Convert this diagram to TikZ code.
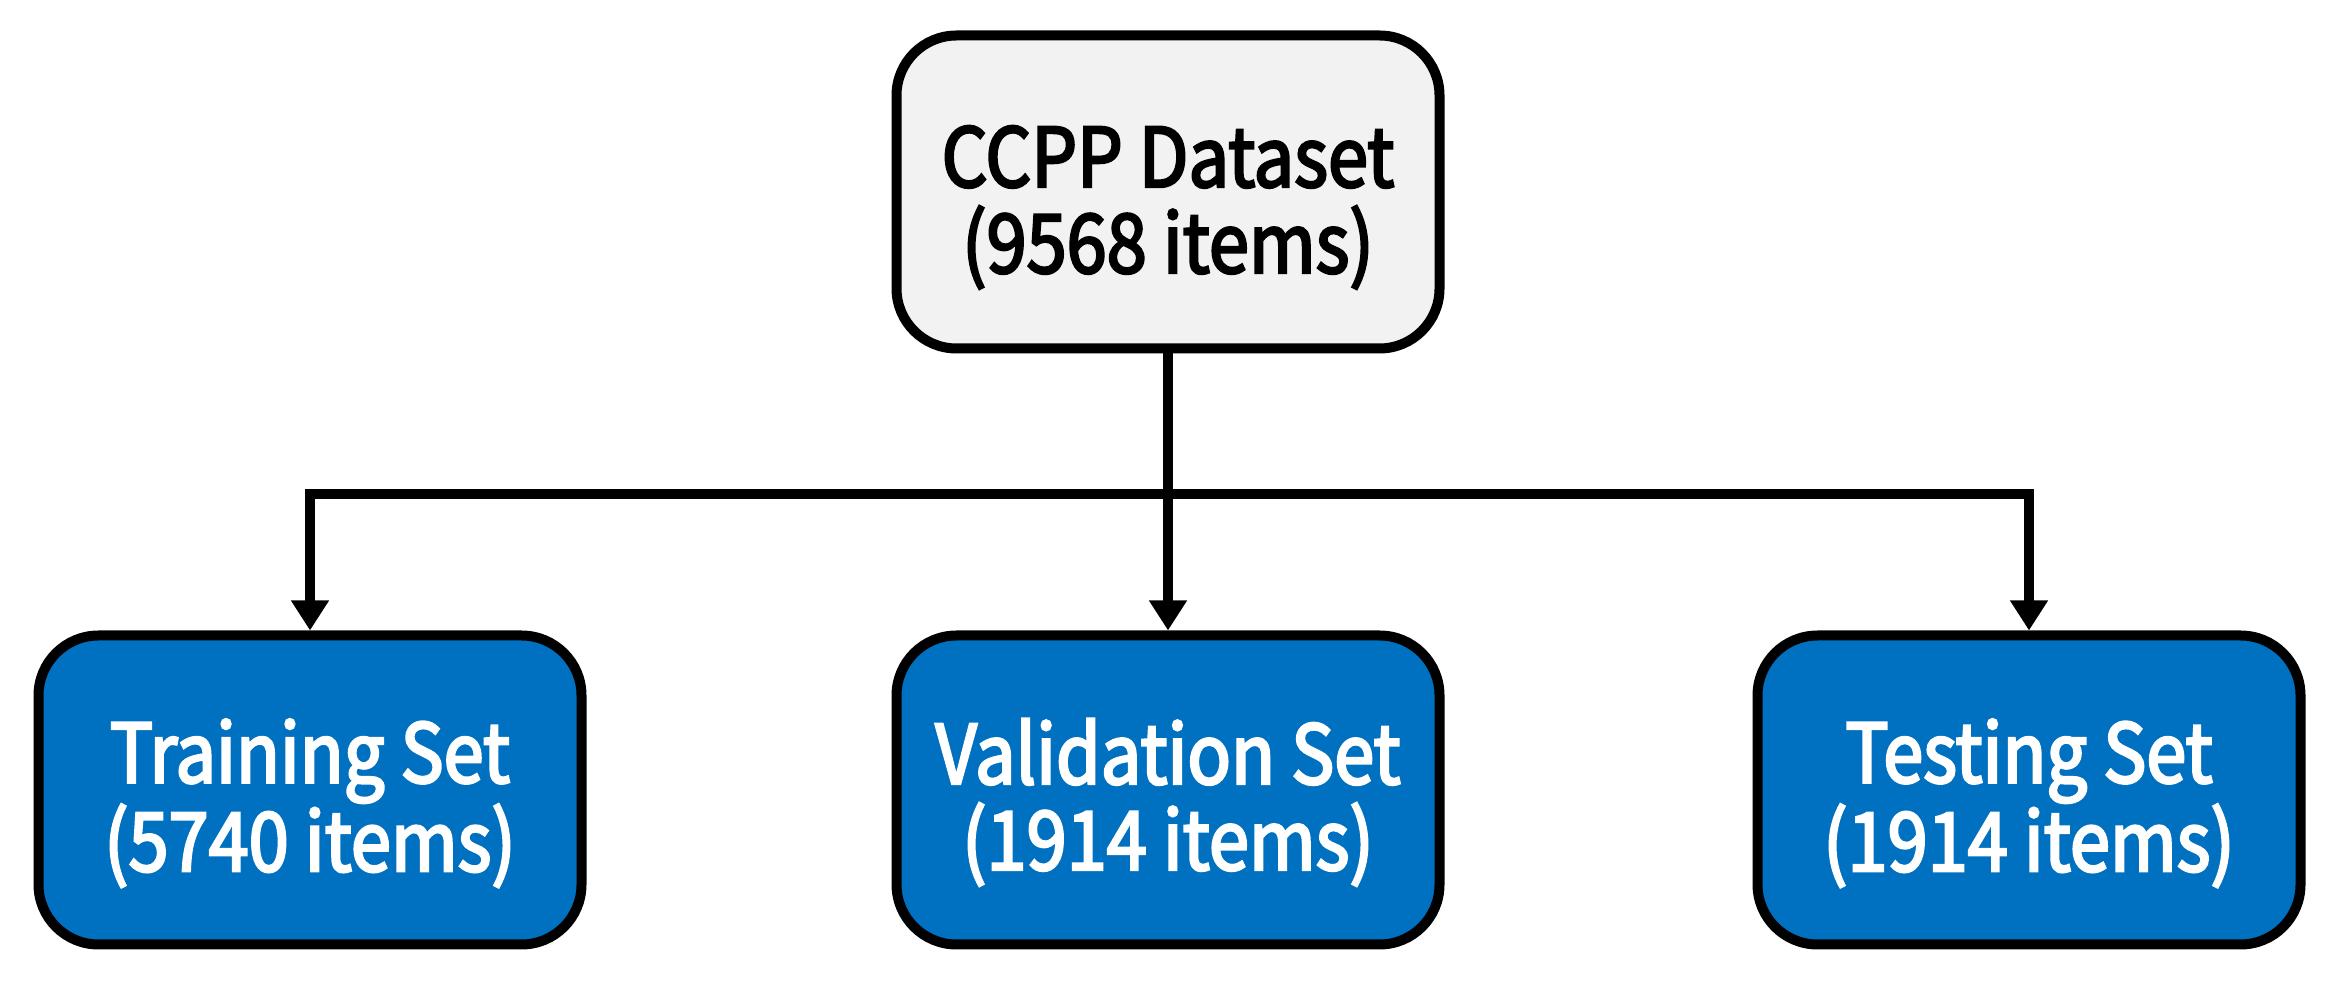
\documentclass[tikz,border=0pt]{standalone}
\usepackage{fontspec}
\newfontfamily\boxfont{Noto Sans CJK SC}[FakeBold=3,FakeStretch=0.88]
\usetikzlibrary{arrows.meta}
\definecolor{topgray}{HTML}{F2F2F2}
\definecolor{setblue}{HTML}{0070C0}
\newcommand{\dropstrut}[1]{\rule{0pt}{#1}}
\begin{document}
\begin{tikzpicture}[x=1pt,y=1pt,
  boxbase/.style={draw=black, line width=10pt, rounded corners=60pt, align=center,
    font=\boxfont\fontsize{82}{86}\selectfont, inner sep=0pt},
  topbox/.style={boxbase, fill=topgray, text=black, minimum width=543pt, minimum height=313pt},
  setbox/.style={boxbase, fill=setblue, text=white, minimum width=543pt, minimum height=309pt},
  conn/.style={line width=10pt},
  arr/.style={conn, -{Triangle[width=36pt,length=30pt]}}
]
\useasboundingbox (0,0) rectangle (2328,982);
\node[topbox] (top) at (1168,790) {\dropstrut{92pt}CCPP Dataset\\(9568 items)};
\node[setbox] (train) at (310,192) {\dropstrut{90pt}Training Set\\(5740 items)};
\node[setbox] (val) at (1168,192) {\dropstrut{90pt}Validation Set\\(1914 items)};
\node[setbox] (test) at (2029,192) {\dropstrut{90pt}Testing Set\\(1914 items)};
\coordinate (j) at (1168,488);
\draw[arr] (top.south) -- (val.north);
\draw[arr] (j) -| (train.north);
\draw[arr] (j) -| (test.north);
\end{tikzpicture}
\end{document}
